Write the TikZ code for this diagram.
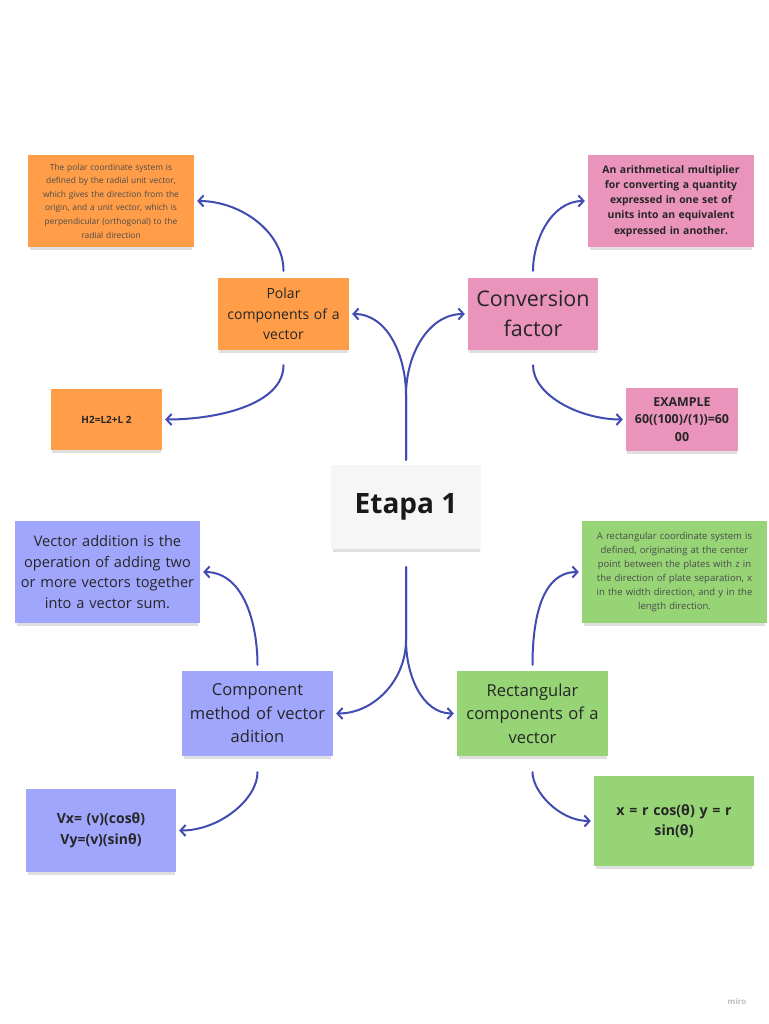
\documentclass[tikz,border=0pt]{standalone}
\usepackage{fontspec}
\setmainfont{Open Sans}
\usetikzlibrary{arrows.meta,shadows}
\definecolor{orangenote}{RGB}{255,157,72}
\definecolor{pinknote}{RGB}{234,148,187}
\definecolor{bluenote}{RGB}{160,166,252}
\definecolor{greennote}{RGB}{150,212,118}
\definecolor{whitenote}{RGB}{246,246,247}
\definecolor{arrowblue}{RGB}{65,75,178}

\begin{document}
\begin{tikzpicture}[x=1pt,y=-1pt,
	note/.style={rectangle, inner sep=0pt, align=center, text=black!85, drop shadow={shadow xshift=0pt, shadow yshift=-4pt, shadow scale=0.98, opacity=0.25}},
	link/.style={draw=arrowblue, line width=2pt, line cap=round, line join=round, -{Straight Barb[length=5pt,width=11pt]}, shorten >=3pt}]
			\fill[white] (0,0) rectangle (768,1024);
			\useasboundingbox (0,0) rectangle (768,1024);
			% centre
			\node[note, fill=whitenote, minimum width=150pt, minimum height=84pt, font=\fontsize{28}{32}\selectfont\bfseries, text=black!90] (etapa) at (406,507) {Etapa 1};
			% upper left
			\node[note, fill=orangenote, minimum width=131pt, minimum height=72pt, text width=129pt, font=\fontsize{14}{20.5}\selectfont] (polar) at (283.5,314) {Polar\\ components of a\\ vector};
			\node[note, fill=orangenote, minimum width=166pt, minimum height=92pt, text width=164pt, font=\fontsize{8.4}{13.6}\selectfont, text=black!70] (poltext) at (111,201) {The polar coordinate system is\\ defined by the radial unit vector,\\ which gives the direction from the\\ origin, and a unit vector, which is\\ perpendicular (orthogonal) to the\\ radial direction};
			\node[note, fill=orangenote, minimum width=111pt, minimum height=61pt, font=\fontsize{10}{12}\selectfont\bfseries] (htwo) at (106.5,419.5) {H2=L2+L 2};
			% upper right
			\node[note, fill=pinknote, minimum width=130pt, minimum height=72pt, text width=128pt, font=\fontsize{21.5}{30}\selectfont] (conv) at (533,314) {Conversion\\ factor};
			\node[note, fill=pinknote, minimum width=166pt, minimum height=92pt, text width=164pt, font=\fontsize{10.4}{15.2}\selectfont\bfseries] (convtext) at (671,201) {An arithmetical multiplier\\ for converting a quantity\\ expressed in one set of\\ units into an equivalent\\ expressed in another.};
			\node[note, fill=pinknote, minimum width=112pt, minimum height=63pt, text width=110pt, font=\fontsize{12.4}{17.5}\selectfont\bfseries] (example) at (682,419.5) {EXAMPLE\\ 60((100)/(1))=60\\ 00};
			% lower left
			\node[note, fill=bluenote, minimum width=151pt, minimum height=85pt, text width=149pt, font=\fontsize{16.5}{23.5}\selectfont] (comp) at (257.5,713.5) {Component\\ method of vector\\ adition};
			\node[note, fill=bluenote, minimum width=185pt, minimum height=102pt, text width=183pt, font=\fontsize{14.6}{20.5}\selectfont] (vadd) at (107.5,572) {Vector addition is the\\ operation of adding two\\ or more vectors together\\ into a vector sum.};
			\node[note, fill=bluenote, minimum width=150pt, minimum height=83pt, text width=148pt, font=\fontsize{14}{21}\selectfont\bfseries] (vxy) at (101,830.5) {Vx= (v)(cosθ)\\ Vy=(v)(sinθ)};
			% lower right
			\node[note, fill=greennote, minimum width=151pt, minimum height=85pt, text width=149pt, font=\fontsize{16.5}{23.5}\selectfont] (rect) at (532.5,713.5) {Rectangular\\ components of a\\ vector};
			\node[note, fill=greennote, minimum width=185pt, minimum height=102pt, text width=183pt, font=\fontsize{9.5}{14}\selectfont, text=black!70] (recttext) at (674.5,572) {A rectangular coordinate system is\\ defined, originating at the center\\ point between the plates with z in\\ the direction of plate separation, x\\ in the width direction, and y in the\\ length direction.};
			\node[note, fill=greennote, minimum width=160pt, minimum height=90pt, text width=158pt, font=\fontsize{14.2}{20}\selectfont\bfseries] (xr) at (674,821) {x = r cos(θ) y = r\\ sin(θ)};
			\node[text=black!25, font=\fontsize{8}{8}\selectfont\bfseries] (miro) at (737,1001) {miro};
			% connectors
			\coordinate (forkup) at (406,395);
			\coordinate (forkdown) at (406,640);
			\draw[link, shorten <=5pt] (etapa.north) -- (forkup) to[out=90,in=0] (polar.east);
			\draw[link, shorten <=5pt] (etapa.north) -- (forkup) to[out=90,in=180] (conv.west);
			\draw[link, shorten <=18pt] (etapa.south) -- (forkdown) to[out=-90,in=0] (comp.east);
			\draw[link, shorten <=18pt] (etapa.south) -- (forkdown) to[out=-90,in=180] (rect.west);
			\draw[link, shorten <=7pt] (polar.north) to[out=90,in=0] (poltext.east);
			\draw[link, shorten <=15pt] (polar.south) to[out=-90,in=0] (htwo.east);
			\draw[link, shorten <=7pt] (conv.north) to[out=90,in=180] (convtext.west);
			\draw[link, shorten <=15pt] (conv.south) to[out=-90,in=180] (example.west);
			\draw[link, shorten <=6pt] (comp.north) to[out=90,in=0] (vadd.east);
			\draw[link, shorten <=16pt] (comp.south) to[out=-90,in=0] (vxy.east);
			\draw[link, shorten <=6pt] (rect.north) to[out=90,in=180] (recttext.west);
			\draw[link, shorten <=16pt] (rect.south) to[out=-90,in=180] (xr.west);
		\end{tikzpicture}
\end{document}
